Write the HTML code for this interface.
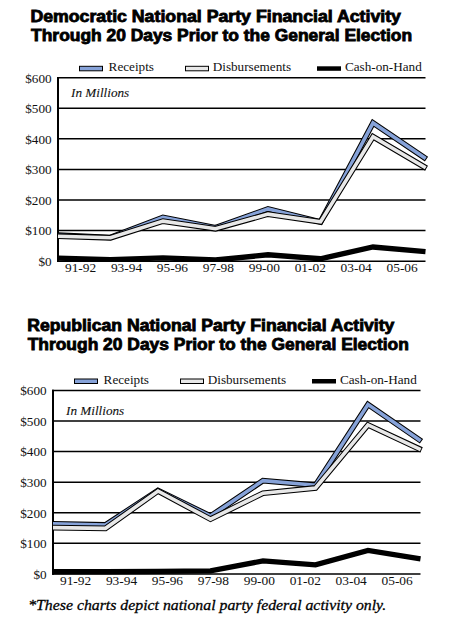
<!DOCTYPE html>
<html><head><meta charset="utf-8"><style>
html,body{margin:0;padding:0;background:#fff;width:450px;height:633px;overflow:hidden}
svg{position:absolute;left:0;top:0}
.ti{font-family:"Liberation Sans",sans-serif;font-weight:bold;font-size:15.6px;fill:#000;stroke:#000;stroke-width:0.8px}
.ax{font-family:"Liberation Serif",serif;font-size:13.2px;fill:#111}
.it{font-family:"Liberation Serif",serif;font-style:italic;font-size:13.2px;fill:#111;stroke:#111;stroke-width:0.1px}
.fn{font-family:"Liberation Serif",serif;font-style:italic;font-size:15.3px;fill:#000;stroke:#000;stroke-width:0.3px}
</style></head><body>
<svg width="450" height="633" viewBox="0 0 450 633">
<text x="30.4" y="22.2" class="ti" textLength="370.6" lengthAdjust="spacingAndGlyphs">Democratic National Party Financial Activity</text>
<text x="31.1" y="40.7" class="ti" textLength="381" lengthAdjust="spacingAndGlyphs">Through 20 Days Prior to the General Election</text>
<line x1="57.00" y1="261.20" x2="425.50" y2="261.20" stroke="#000" stroke-width="1.5"/>
<line x1="57.00" y1="230.62" x2="425.50" y2="230.62" stroke="#000" stroke-width="1.5"/>
<line x1="57.00" y1="200.03" x2="425.50" y2="200.03" stroke="#000" stroke-width="1.5"/>
<line x1="57.00" y1="169.45" x2="425.50" y2="169.45" stroke="#000" stroke-width="1.5"/>
<line x1="57.00" y1="138.87" x2="425.50" y2="138.87" stroke="#000" stroke-width="1.5"/>
<line x1="57.00" y1="108.28" x2="425.50" y2="108.28" stroke="#000" stroke-width="1.5"/>
<line x1="57.00" y1="77.70" x2="425.50" y2="77.70" stroke="#000" stroke-width="1.5"/>
<line x1="58.00" y1="76.95" x2="58.00" y2="261.95" stroke="#000" stroke-width="2"/>
<polyline points="58.00,235.20 110.50,237.50 163.00,217.47 215.50,227.71 268.00,208.90 320.50,221.90 373.00,122.96 426.49,159.11" fill="none" stroke="#000" stroke-width="5.7" stroke-linejoin="miter" stroke-miterlimit="10"/>
<polyline points="58.00,235.20 110.50,237.50 163.00,217.47 215.50,227.71 268.00,208.90 320.50,221.90 373.00,122.96 425.67,158.55" fill="none" stroke="#86a2d8" stroke-width="3.6" stroke-linejoin="miter" stroke-miterlimit="10"/>
<polyline points="58.00,236.18 110.50,237.80 163.00,221.14 215.50,228.78 268.00,214.10 320.50,221.90 373.00,136.73 426.53,168.22" fill="none" stroke="#000" stroke-width="5.7" stroke-linejoin="miter" stroke-miterlimit="10"/>
<polyline points="58.00,236.18 110.50,237.80 163.00,221.14 215.50,228.78 268.00,214.10 320.50,221.90 373.00,136.73 425.67,167.72" fill="none" stroke="#e8e8e8" stroke-width="3.6" stroke-linejoin="miter" stroke-miterlimit="10"/>
<clipPath id="clip0"><rect x="56.00" y="67.70" width="373.50" height="194.30"/></clipPath>
<polyline clip-path="url(#clip0)" points="58.00,258.14 110.50,259.67 163.00,257.84 215.50,259.98 268.00,254.78 320.50,258.75 373.00,247.01 425.50,251.60" fill="none" stroke="#000" stroke-width="5.3" stroke-linejoin="miter"/>
<text x="51.60" y="266.00" text-anchor="end" class="ax">$0</text>
<text x="51.60" y="235.42" text-anchor="end" class="ax">$100</text>
<text x="51.60" y="204.83" text-anchor="end" class="ax">$200</text>
<text x="51.60" y="174.25" text-anchor="end" class="ax">$300</text>
<text x="51.60" y="143.67" text-anchor="end" class="ax">$400</text>
<text x="51.60" y="113.08" text-anchor="end" class="ax">$500</text>
<text x="51.60" y="82.50" text-anchor="end" class="ax">$600</text>
<text x="80.60" y="272.30" text-anchor="middle" class="ax" style="font-size:13.4px">91-92</text>
<text x="126.53" y="272.30" text-anchor="middle" class="ax" style="font-size:13.4px">93-94</text>
<text x="172.46" y="272.30" text-anchor="middle" class="ax" style="font-size:13.4px">95-96</text>
<text x="218.39" y="272.30" text-anchor="middle" class="ax" style="font-size:13.4px">97-98</text>
<text x="264.32" y="272.30" text-anchor="middle" class="ax" style="font-size:13.4px">99-00</text>
<text x="310.25" y="272.30" text-anchor="middle" class="ax" style="font-size:13.4px">01-02</text>
<text x="356.18" y="272.30" text-anchor="middle" class="ax" style="font-size:13.4px">03-04</text>
<text x="402.11" y="272.30" text-anchor="middle" class="ax" style="font-size:13.4px">05-06</text>
<rect x="79.50" y="66.30" width="23" height="4.5" fill="#86a2d8" stroke="#000" stroke-width="1"/>
<text x="108.60" y="70.80" class="ax">Receipts</text>
<rect x="185.50" y="66.30" width="23" height="4.5" fill="#e8e8e8" stroke="#000" stroke-width="1"/>
<text x="212.70" y="70.80" class="ax">Disbursements</text>
<rect x="317.00" y="66.30" width="24" height="4.5" fill="#000"/>
<text x="344.90" y="70.80" class="ax">Cash-on-Hand</text>
<text x="71.00" y="96.90" class="it">In Millions</text>
<text x="27.2" y="331.1" class="ti" textLength="367.2" lengthAdjust="spacingAndGlyphs">Republican National Party Financial Activity</text>
<text x="27.7" y="350" class="ti" textLength="381.2" lengthAdjust="spacingAndGlyphs">Through 20 Days Prior to the General Election</text>
<line x1="52.00" y1="573.90" x2="420.50" y2="573.90" stroke="#000" stroke-width="1.5"/>
<line x1="52.00" y1="543.32" x2="420.50" y2="543.32" stroke="#000" stroke-width="1.5"/>
<line x1="52.00" y1="512.73" x2="420.50" y2="512.73" stroke="#000" stroke-width="1.5"/>
<line x1="52.00" y1="482.15" x2="420.50" y2="482.15" stroke="#000" stroke-width="1.5"/>
<line x1="52.00" y1="451.57" x2="420.50" y2="451.57" stroke="#000" stroke-width="1.5"/>
<line x1="52.00" y1="420.98" x2="420.50" y2="420.98" stroke="#000" stroke-width="1.5"/>
<line x1="52.00" y1="390.40" x2="420.50" y2="390.40" stroke="#000" stroke-width="1.5"/>
<line x1="53.00" y1="389.65" x2="53.00" y2="574.65" stroke="#000" stroke-width="2"/>
<polyline points="53.00,523.80 105.50,524.97 158.00,490.41 210.50,516.10 263.00,480.62 315.50,485.21 368.00,404.47 421.49,441.24" fill="none" stroke="#000" stroke-width="5.7" stroke-linejoin="miter" stroke-miterlimit="10"/>
<polyline points="53.00,523.80 105.50,524.97 158.00,490.41 210.50,516.10 263.00,480.62 315.50,485.21 368.00,404.47 420.66,440.67" fill="none" stroke="#86a2d8" stroke-width="3.6" stroke-linejoin="miter" stroke-miterlimit="10"/>
<polyline points="53.00,527.60 105.50,528.33 158.00,491.02 210.50,519.16 263.00,493.16 315.50,487.96 368.00,424.96 421.59,449.93" fill="none" stroke="#000" stroke-width="5.7" stroke-linejoin="miter" stroke-miterlimit="10"/>
<polyline points="53.00,527.60 105.50,528.33 158.00,491.02 210.50,519.16 263.00,493.16 315.50,487.96 368.00,424.96 420.68,449.51" fill="none" stroke="#e8e8e8" stroke-width="3.6" stroke-linejoin="miter" stroke-miterlimit="10"/>
<clipPath id="clip312"><rect x="51.00" y="380.40" width="373.50" height="194.30"/></clipPath>
<polyline clip-path="url(#clip312)" points="53.00,571.76 105.50,571.76 158.00,571.45 210.50,570.84 263.00,560.90 315.50,564.91 368.00,550.50 420.50,558.79" fill="none" stroke="#000" stroke-width="5.3" stroke-linejoin="miter"/>
<text x="46.60" y="578.70" text-anchor="end" class="ax">$0</text>
<text x="46.60" y="548.12" text-anchor="end" class="ax">$100</text>
<text x="46.60" y="517.53" text-anchor="end" class="ax">$200</text>
<text x="46.60" y="486.95" text-anchor="end" class="ax">$300</text>
<text x="46.60" y="456.37" text-anchor="end" class="ax">$400</text>
<text x="46.60" y="425.78" text-anchor="end" class="ax">$500</text>
<text x="46.60" y="395.20" text-anchor="end" class="ax">$600</text>
<text x="75.60" y="585.00" text-anchor="middle" class="ax" style="font-size:13.4px">91-92</text>
<text x="121.53" y="585.00" text-anchor="middle" class="ax" style="font-size:13.4px">93-94</text>
<text x="167.46" y="585.00" text-anchor="middle" class="ax" style="font-size:13.4px">95-96</text>
<text x="213.39" y="585.00" text-anchor="middle" class="ax" style="font-size:13.4px">97-98</text>
<text x="259.32" y="585.00" text-anchor="middle" class="ax" style="font-size:13.4px">99-00</text>
<text x="305.25" y="585.00" text-anchor="middle" class="ax" style="font-size:13.4px">01-02</text>
<text x="351.18" y="585.00" text-anchor="middle" class="ax" style="font-size:13.4px">03-04</text>
<text x="397.11" y="585.00" text-anchor="middle" class="ax" style="font-size:13.4px">05-06</text>
<rect x="74.50" y="379.00" width="23" height="4.5" fill="#86a2d8" stroke="#000" stroke-width="1"/>
<text x="103.60" y="383.50" class="ax">Receipts</text>
<rect x="180.50" y="379.00" width="23" height="4.5" fill="#e8e8e8" stroke="#000" stroke-width="1"/>
<text x="207.70" y="383.50" class="ax">Disbursements</text>
<rect x="312.00" y="379.00" width="24" height="4.5" fill="#000"/>
<text x="339.90" y="383.50" class="ax">Cash-on-Hand</text>
<text x="66.00" y="414.60" class="it">In Millions</text>
<text x="28.2" y="609.6" class="fn" textLength="358" lengthAdjust="spacingAndGlyphs">*These charts depict national party federal activity only.</text>
</svg>
</body></html>
